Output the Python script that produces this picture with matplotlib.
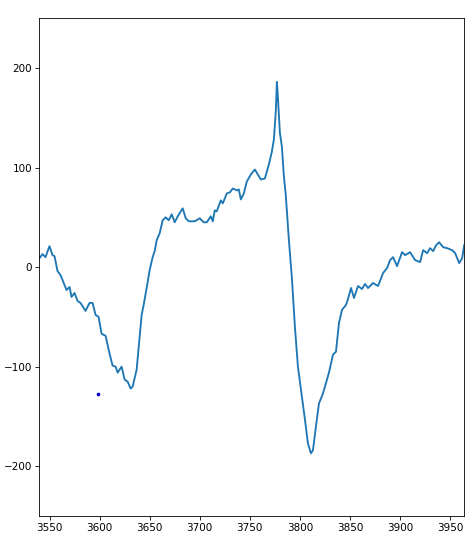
import numpy as np
import matplotlib
matplotlib.use('Agg')
import matplotlib.pyplot as plt

# trace values
wavenumber = [3540, 3543, 3546, 3550, 3553, 3555, 3558, 3561, 3565, 3567,
              3570, 3572, 3575, 3578, 3581, 3586, 3590, 3593, 3596, 3599,
              3602, 3606, 3610, 3613, 3616, 3618, 3622, 3625, 3628, 3631,
              3633, 3637, 3642, 3644, 3647, 3650, 3653, 3655, 3657, 3660,
              3663, 3666, 3669, 3672, 3675, 3678, 3683, 3686, 3689, 3695,
              3700, 3704, 3707, 3711, 3713, 3715, 3717, 3721, 3723, 3727,
              3730, 3733, 3737, 3739, 3741, 3744, 3747, 3751, 3755, 3758,
              3761, 3765, 3769, 3772, 3774, 3776, 3777, 3778, 3780, 3782,
              3784, 3786, 3789, 3792, 3795, 3798, 3802, 3805, 3808, 3811,
              3813, 3816, 3819, 3823, 3825, 3829, 3833, 3836, 3839, 3842,
              3846, 3848, 3851, 3854, 3858, 3862, 3865, 3868, 3873, 3878,
              3883, 3887, 3890, 3893, 3897, 3902, 3905, 3910, 3915, 3920,
              3923, 3927, 3930, 3933, 3936, 3939, 3943, 3947, 3952, 3955,
              3959, 3962, 3964]
signal = [9, 13, 10, 21, 12, 11, -4, -8, -18, -23,
          -20, -30, -26, -34, -36, -44, -36, -36, -48, -50,
          -67, -69, -87, -99, -100, -106, -100, -113, -115, -122,
          -120, -103, -48, -38, -21, -3, 10, 16, 27, 34,
          47, 50, 47, 53, 45, 51, 59, 49, 46, 46,
          49, 45, 45, 51, 46, 57, 56, 67, 64, 74,
          75, 79, 77, 78, 68, 74, 86, 93, 98, 93,
          88, 89, 103, 116, 128, 158, 186, 171, 135, 121,
          91, 71, 27, -11, -60, -100, -130, -153, -177, -187,
          -184, -160, -137, -127, -120, -106, -88, -85, -56, -43,
          -38, -32, -21, -31, -19, -22, -17, -21, -16, -19,
          -6, -1, 7, 10, 1, 15, 12, 15, 7, 5,
          17, 14, 19, 16, 22, 25, 20, 19, 17, 14,
          4, 9, 22]

# single marked point
point_x = [3598]
point_y = [-127]

# reference looks like a 75 dpi render
fig = plt.figure(figsize=(474 / 75, 551 / 75), dpi=75)
ax = fig.add_axes([0.0833, 0.0635, 0.896, 0.9035])

ax.plot(wavenumber, signal, color='#1f77b4', linewidth=1.8, solid_joinstyle='round')
ax.plot(point_x, point_y, 'o', color='#0000cc', markersize=2.5)

ax.set_xlim(3540, 3964)
ax.set_ylim(-250, 250)
ax.set_xticks([3550, 3600, 3650, 3700, 3750, 3800, 3850, 3900, 3950])
ax.set_yticks([-200, -100, 0, 100, 200])

fig.savefig('out.png', dpi=75)
